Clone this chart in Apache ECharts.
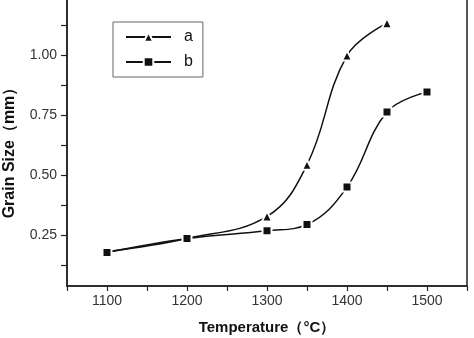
<!DOCTYPE html>
<html>
<head>
<meta charset="utf-8">
<script src="https://cdn.jsdelivr.net/npm/echarts@6/dist/echarts.min.js"></script>
<style>
html,body{margin:0;padding:0;background:#fff;overflow:hidden;}
#c{width:474px;height:348px;margin-top:-10px;}
</style>
</head>
<body>
<div id="c"></div>
<script>
var temps = [1100, 1200, 1300, 1350, 1400, 1450, 1500];
var seriesA = [0.183, 0.238, 0.33, 0.545, 1.0, 1.135, null];
var seriesB = [0.18, 0.238, 0.27, 0.296, 0.452, 0.765, 0.848];
var yLabels = [0.25, 0.5, 0.75, 1.0, 1.25];
var yTicks = [0.125, 0.25, 0.375, 0.5, 0.625, 0.75, 0.875, 1.0, 1.125, 1.25];

function pairs(vals){
  var out = [];
  for (var i = 0; i < temps.length; i++) if (vals[i] != null) out.push([temps[i], vals[i]]);
  return out;
}

var chart = echarts.init(document.getElementById('c'));
var font = 'Liberation Sans, Arial, sans-serif';
chart.setOption({
  animation: false,
  backgroundColor: '#fff',
  grid: {left: 67, right: 7, top: 0, bottom: 52, show: true, borderColor: '#222', borderWidth: 1.5,
         outerBoundsMode: 'none', containLabel: false},
  legend: {
    left: 113, top: 32, orient: 'vertical',
    borderColor: '#666', borderWidth: 1, padding: [7, 10, 7, 12],
    itemWidth: 45, itemHeight: 12, itemGap: 9,
    textStyle: {fontFamily: font, fontSize: 16, color: '#111', padding: [0, 0, 0, 8]},
    data: ['a', 'b']
  },
  xAxis: {
    type: 'value', min: 1050, max: 1550, interval: 50,
    axisLine: {lineStyle: {color: '#222', width: 1.5}},
    axisTick: {inside: false, length: 5, lineStyle: {color: '#222', width: 1.2}},
    splitLine: {show: false},
    axisLabel: {
      fontFamily: font, fontSize: 14, color: '#333', margin: 8,
      formatter: function(v){ return v % 100 === 0 ? String(v) : ''; }
    },
    name: 'Temperature（°C）', nameLocation: 'middle', nameGap: 34,
    nameTextStyle: {fontFamily: font, fontSize: 15, fontWeight: 'bold', color: '#111'}
  },
  yAxis: {
    type: 'value', min: 0.04, max: 1.273,
    axisLine: {show: true, lineStyle: {color: '#222', width: 1.5}},
    axisTick: {show: true, length: 6, customValues: yTicks, lineStyle: {color: '#222', width: 1.2}},
    splitLine: {show: false},
    axisLabel: {
      fontFamily: font, fontSize: 14, color: '#333', margin: 10,
      customValues: yLabels,
      formatter: function(v){ return v.toFixed(2); }
    },
    name: 'Grain Size（mm）', nameLocation: 'middle', nameGap: 49,
    nameTextStyle: {fontFamily: font, fontSize: 16, fontWeight: 'bold', color: '#111', padding: [0, 22, 0, 0]}
  },
  series: [
    {
      name: 'a', type: 'line', smooth: 0.4, data: pairs(seriesA),
      symbol: 'triangle', symbolSize: 10,
      lineStyle: {color: '#111', width: 1.5},
      itemStyle: {color: '#111', borderColor: '#fff', borderWidth: 2}
    },
    {
      name: 'b', type: 'line', smooth: 0.4, data: pairs(seriesB),
      symbol: 'rect', symbolSize: 9,
      lineStyle: {color: '#111', width: 1.5},
      itemStyle: {color: '#111', borderColor: '#fff', borderWidth: 2}
    }
  ]
});
</script>
</body>
</html>
